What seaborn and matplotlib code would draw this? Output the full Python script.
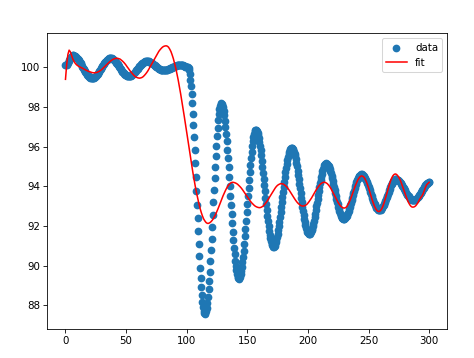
import numpy as np
import matplotlib
matplotlib.use("Agg")
import matplotlib.pyplot as plt
import seaborn as sns

# measured signal, sampled every 0.5 from 0 to 300
x_step = 0.5
data_steady = [
    100.10, 100.11, 100.13, 100.17, 100.23, 100.29, 100.35, 100.41, 100.48, 100.53, 100.57, 100.59, 100.60,
    100.60, 100.59, 100.58, 100.56, 100.53, 100.50, 100.47, 100.43, 100.39, 100.34, 100.30, 100.25, 100.19,
    100.14, 100.08, 100.03, 99.97, 99.91, 99.86, 99.81, 99.75, 99.71, 99.66, 99.62, 99.58, 99.55, 99.52,
    99.49, 99.47, 99.46, 99.45, 99.45,
    99.45, 99.46, 99.47, 99.49, 99.52, 99.55, 99.58, 99.62, 99.66, 99.70, 99.75, 99.80, 99.85, 99.90, 99.95,
    100.00, 100.05, 100.10, 100.15, 100.20, 100.24, 100.28, 100.32, 100.35, 100.38, 100.41, 100.43, 100.44,
    100.45, 100.45,
    100.45, 100.44, 100.43, 100.41, 100.39, 100.36, 100.33, 100.30, 100.26, 100.23, 100.18, 100.14, 100.09,
    100.05, 100.00, 99.95, 99.91, 99.86, 99.82, 99.78, 99.74, 99.70, 99.67, 99.64, 99.61, 99.59, 99.57,
    99.56, 99.55, 99.55,
    99.55, 99.56, 99.57, 99.58, 99.60, 99.62, 99.65, 99.67, 99.70, 99.74, 99.77, 99.81, 99.85, 99.89, 99.93,
    99.96, 100.00, 100.04, 100.08, 100.11, 100.15, 100.18, 100.20, 100.23, 100.25, 100.27, 100.28, 100.29,
    100.30, 100.30,
    100.30, 100.29, 100.29, 100.28, 100.27, 100.25, 100.23, 100.22, 100.19, 100.17, 100.15, 100.13, 100.10,
    100.08, 100.05, 100.02, 100.00, 99.98, 99.96, 99.93, 99.92, 99.90, 99.88, 99.87, 99.86, 99.86, 99.85, 99.85,
    99.85, 99.85, 99.86, 99.86, 99.87, 99.88, 99.89, 99.90, 99.91, 99.93, 99.94, 99.95, 99.97, 99.99, 100.00,
    100.02, 100.03, 100.04, 100.06, 100.07, 100.08, 100.09, 100.10, 100.11, 100.11, 100.12, 100.12, 100.12,
    100.12, 100.11, 100.10, 100.09, 100.08, 100.06, 100.04, 100.03, 100.02, 100.01, 100.00, 100.00,
]
data_drop = [
    99.96, 99.84, 99.65, 99.38, 99.05, 98.64, 98.18, 97.66, 97.09, 96.48, 95.83, 95.16, 94.47, 93.78,
    93.08, 92.39, 91.72, 91.07, 90.46, 89.89, 89.37, 88.91, 88.50, 88.17, 87.90, 87.71, 87.59, 87.55,
]
data_ringing = [
    87.59, 87.69, 87.87, 88.12, 88.43, 88.80, 89.22, 89.70, 90.21, 90.77, 91.35, 91.95, 92.57, 93.19,
    93.80, 94.40, 94.98, 95.54, 96.05, 96.53, 96.95, 97.32, 97.63, 97.88, 98.06, 98.16, 98.20,
    98.17, 98.10, 97.97, 97.79, 97.57, 97.30, 96.99, 96.64, 96.26, 95.85, 95.41, 94.96, 94.49, 94.02,
    93.53, 93.06, 92.59, 92.14, 91.70, 91.29, 90.91, 90.56, 90.25, 89.98, 89.76, 89.58, 89.45, 89.38, 89.35,
    89.37, 89.44, 89.56, 89.72, 89.93, 90.17, 90.45, 90.76, 91.11, 91.47, 91.86, 92.27, 92.68, 93.10,
    93.52, 93.93, 94.34, 94.73, 95.09, 95.44, 95.75, 96.03, 96.28, 96.48, 96.64, 96.76, 96.83, 96.85,
    96.83, 96.78, 96.70, 96.58, 96.43, 96.25, 96.04, 95.81, 95.56, 95.28, 94.99, 94.69, 94.38, 94.06,
    93.74, 93.42, 93.11, 92.81, 92.52, 92.24, 91.99, 91.76, 91.55, 91.37, 91.22, 91.10, 91.02, 90.97, 90.95,
    90.96, 91.00, 91.07, 91.17, 91.29, 91.43, 91.59, 91.78, 91.98, 92.20, 92.43, 92.68, 92.93, 93.19,
    93.45, 93.71, 93.97, 94.22, 94.47, 94.70, 94.92, 95.12, 95.31, 95.47, 95.62, 95.73, 95.83, 95.90,
    95.94, 95.95,
    95.94, 95.90, 95.84, 95.75, 95.64, 95.51, 95.35, 95.18, 95.00, 94.79, 94.58, 94.36, 94.13, 93.89,
    93.66, 93.42, 93.19, 92.97, 92.76, 92.55, 92.37, 92.20, 92.04, 91.91, 91.80, 91.71, 91.65, 91.61, 91.60,
    91.61, 91.64, 91.70, 91.78, 91.87, 91.99, 92.12, 92.27, 92.43, 92.60, 92.79, 92.98, 93.18, 93.38,
    93.57, 93.77, 93.96, 94.15, 94.32, 94.48, 94.63, 94.76, 94.88, 94.97, 95.05, 95.11, 95.14, 95.15,
    95.14, 95.12, 95.08, 95.02, 94.95, 94.86, 94.77, 94.66, 94.54, 94.41, 94.27, 94.12, 93.98, 93.83,
    93.67, 93.52, 93.38, 93.23, 93.09, 92.96, 92.84, 92.73, 92.64, 92.55, 92.48, 92.42, 92.38, 92.36, 92.35,
    92.36, 92.38, 92.41, 92.45, 92.51, 92.58, 92.66, 92.75, 92.84, 92.95, 93.06, 93.17, 93.29, 93.41,
    93.54, 93.66, 93.78, 93.89, 94.00, 94.11, 94.20, 94.29, 94.37, 94.44, 94.50, 94.54, 94.57, 94.59, 94.60,
    94.60, 94.58, 94.56, 94.52, 94.48, 94.43, 94.37, 94.30, 94.23, 94.15, 94.07, 93.98, 93.89, 93.79,
    93.70, 93.61, 93.51, 93.42, 93.33, 93.25, 93.17, 93.10, 93.03, 92.97, 92.92, 92.88, 92.84, 92.82,
    92.80, 92.80,
    92.81, 92.82, 92.85, 92.88, 92.93, 92.98, 93.04, 93.11, 93.19, 93.27, 93.35, 93.44, 93.53, 93.62,
    93.71, 93.80, 93.88, 93.96, 94.04, 94.11, 94.17, 94.22, 94.27, 94.30, 94.33, 94.35, 94.35,
    94.35, 94.34, 94.32, 94.30, 94.27, 94.24, 94.21, 94.17, 94.12, 94.07, 94.02, 93.97, 93.91, 93.85,
    93.80, 93.74, 93.68, 93.63, 93.58, 93.53, 93.49, 93.44, 93.41, 93.38, 93.35, 93.33, 93.31, 93.30, 93.30,
    93.30, 93.31, 93.33, 93.35, 93.37, 93.41, 93.44, 93.48, 93.53, 93.57, 93.62, 93.67, 93.72, 93.78,
    93.83, 93.88, 93.93, 93.98, 94.02, 94.06, 94.09, 94.13, 94.15, 94.17, 94.19, 94.20,
]

# fitted curve, one value per unit of x from 0 to 300
fit_y = [
    99.39, 100.15, 100.65, 100.86, 100.78, 100.60, 100.42, 100.30, 100.20, 100.13, 100.08, 100.04, 100.01,
    99.98, 99.95, 99.92, 99.88, 99.85, 99.82, 99.79, 99.77, 99.75, 99.73, 99.72, 99.72,
    99.73, 99.74, 99.77, 99.80, 99.84, 99.89, 99.95, 100.01, 100.07, 100.13, 100.19, 100.25, 100.30,
    100.35, 100.39, 100.42, 100.44, 100.45,
    100.45, 100.43, 100.41, 100.36, 100.31, 100.25, 100.18, 100.10, 100.01, 99.93, 99.84, 99.76, 99.69,
    99.62, 99.56, 99.51, 99.48, 99.46, 99.45,
    99.46, 99.48, 99.52, 99.58, 99.65, 99.73, 99.82, 99.93, 100.04, 100.15, 100.27, 100.38, 100.49,
    100.60, 100.71, 100.80, 100.88, 100.95, 101.01, 101.05, 101.07, 101.08,
    101.06, 101.01, 100.91, 100.79, 100.62, 100.43, 100.20, 99.95, 99.66, 99.35, 99.02, 98.66, 98.29,
    97.91, 97.52, 97.12, 96.71, 96.30, 95.89, 95.49, 95.10, 94.73, 94.37, 94.02, 93.70, 93.41, 93.14,
    92.89, 92.68, 92.50, 92.35, 92.25, 92.17, 92.13,
    92.13, 92.16, 92.21, 92.28, 92.37, 92.48, 92.60, 92.74, 92.89, 93.05, 93.20, 93.36, 93.52, 93.66,
    93.79, 93.91, 94.01, 94.09, 94.15, 94.19, 94.20,
    94.19, 94.17, 94.14, 94.10, 94.04, 93.98, 93.91, 93.83, 93.74, 93.65, 93.56, 93.47, 93.38, 93.29,
    93.21, 93.14, 93.08, 93.02, 92.98, 92.95, 92.93, 92.92,
    92.93, 92.96, 93.00, 93.06, 93.14, 93.22, 93.32, 93.42, 93.53, 93.63, 93.73, 93.83, 93.91, 93.99,
    94.05, 94.09, 94.12, 94.13,
    94.12, 94.10, 94.05, 94.00, 93.93, 93.85, 93.76, 93.66, 93.57, 93.47, 93.37, 93.28, 93.20, 93.13,
    93.08, 93.03, 93.01, 93.00,
    93.01, 93.04, 93.08, 93.15, 93.23, 93.32, 93.41, 93.52, 93.63, 93.73, 93.84, 93.93, 94.01, 94.09,
    94.14, 94.18, 94.20,
    94.20, 94.17, 94.13, 94.06, 93.98, 93.88, 93.76, 93.64, 93.52, 93.40, 93.28, 93.17, 93.08, 93.00,
    92.95, 92.91, 92.90,
    92.92, 92.97, 93.07, 93.19, 93.33, 93.49, 93.67, 93.84, 94.01, 94.16, 94.30, 94.40, 94.48, 94.52,
    94.51, 94.47, 94.38, 94.26, 94.10, 93.92, 93.72, 93.52, 93.32, 93.14, 92.98, 92.86, 92.77, 92.73,
    92.73, 92.78, 92.88, 93.02, 93.20, 93.40, 93.61, 93.84, 94.05, 94.24, 94.40, 94.52, 94.59, 94.62,
    94.60, 94.54, 94.45, 94.33, 94.18, 94.01, 93.83, 93.65, 93.48, 93.32, 93.18, 93.07, 92.99, 92.95,
    92.95, 92.97, 93.02, 93.10, 93.20, 93.32, 93.42, 93.50, 93.62, 93.78, 93.95, 94.08, 94.14, 94.20,
]

data_y = np.array(data_steady + data_drop + data_ringing)
data_x = np.arange(len(data_y)) * x_step
fit_x = np.arange(len(fit_y)) * 1.0

fig, ax = plt.subplots(figsize=(474 / 74, 358 / 74), dpi=74)
fig.subplots_adjust(left=0.0998, right=0.9437, bottom=0.0802, top=0.907)

# plain matplotlib-style dots: face-coloured edge, default stroke width
sns.scatterplot(x=data_x, y=data_y, s=36, color='#1f77b4', edgecolor='#1f77b4',
                linewidth=1.5, label='data', ax=ax)
sns.lineplot(x=fit_x, y=np.array(fit_y), color='red', linewidth=1.5, label='fit', ax=ax)

ax.set_xlim(-15, 315)
ax.set_ylim(86.79, 101.71)
ax.set_xticks([0, 50, 100, 150, 200, 250, 300])
ax.set_yticks([88, 90, 92, 94, 96, 98, 100])
ax.set_xlabel('')
ax.set_ylabel('')
ax.legend(loc='upper right')

fig.savefig('out.png', dpi=74)
